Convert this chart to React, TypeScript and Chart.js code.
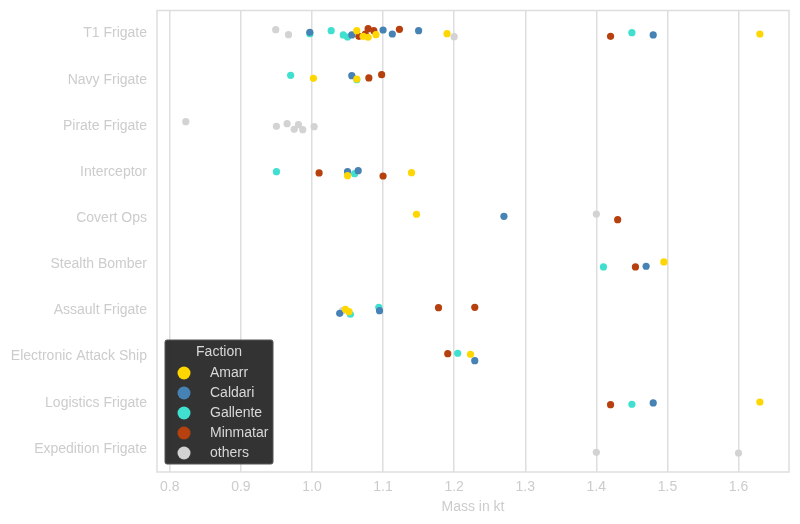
import React, { useEffect, useRef } from "react";
import { Chart, registerables } from "chart.js";

Chart.register(...registerables);

const categories = [
  "T1 Frigate",
  "Navy Frigate",
  "Pirate Frigate",
  "Interceptor",
  "Covert Ops",
  "Stealth Bomber",
  "Assault Frigate",
  "Electronic Attack Ship",
  "Logistics Frigate",
  "Expedition Frigate",
];

const xTicks = [0.8, 0.9, 1.0, 1.1, 1.2, 1.3, 1.4, 1.5, 1.6];

const factions = ["Amarr", "Caldari", "Gallente", "Minmatar", "others"];
const factionColors = ["#FFD700", "#4682B4", "#40E0D0", "#B7410E", "#D3D3D3"];

// [ship category index, mass in kt, vertical jitter in category units]
const amarr: number[][] = [
  [0, 1.063, -0.063], [0, 1.072, 0.059], [0, 1.079, 0.08], [0, 1.09, 0.024], [0, 1.19, 0.002], [0, 1.63, 0.009],
  [1, 1.002, -0.031], [1, 1.063, -0.016],
  [3, 1.05, 0.079], [3, 1.14, 0.014],
  [4, 1.147, -0.085],
  [5, 1.495, -0.051],
  [6, 1.047, -0.026], [6, 1.052, 0.026],
  [7, 1.223, -0.051],
  [8, 1.63, -0.017],
];

const caldari: number[][] = [
  [0, 0.997, -0.028], [0, 1.056, 0.03], [0, 1.1, -0.078], [0, 1.113, 0.009], [0, 1.15, -0.063], [0, 1.48, 0.03],
  [1, 1.056, -0.088],
  [3, 1.05, -0.008], [3, 1.065, -0.029],
  [4, 1.27, -0.041],
  [5, 1.47, 0.042],
  [6, 1.039, 0.061], [6, 1.095, 0.004],
  [7, 1.229, 0.088],
  [8, 1.48, 0.004],
];

const gallente: number[][] = [
  [0, 0.997, 0.002], [0, 1.027, -0.063], [0, 1.044, 0.03], [0, 1.05, 0.074], [0, 1.45, -0.02],
  [1, 0.97, -0.096], [1, 1.063, -0.001],
  [3, 0.95, -0.008], [3, 1.06, 0.036],
  [5, 1.41, 0.057],
  [6, 1.054, 0.082], [6, 1.094, -0.069],
  [7, 1.205, -0.073],
  [8, 1.45, 0.032],
];

const minmatar: number[][] = [
  [0, 1.066, 0.059], [0, 1.075, 0.009], [0, 1.079, -0.106], [0, 1.087, -0.063], [0, 1.123, -0.093], [0, 1.42, 0.059],
  [1, 1.08, -0.038], [1, 1.098, -0.11],
  [3, 1.01, 0.02], [3, 1.1, 0.086],
  [4, 1.43, 0.032],
  [5, 1.455, 0.057],
  [6, 1.178, -0.061], [6, 1.229, -0.069],
  [7, 1.191, -0.064],
  [8, 1.42, 0.041],
];

const others: number[][] = [
  [0, 0.949, -0.085], [0, 0.967, 0.024], [0, 1.2, 0.067],
  [2, 0.8225, -0.091], [2, 0.95, 0.009], [2, 0.965, -0.048], [2, 0.975, 0.074], [2, 0.981, -0.026], [2, 0.987, 0.082], [2, 1.003, 0.017],
  [4, 1.4, -0.091],
  [6, 1.043, 0.004],
  [9, 1.4, 0.073], [9, 1.6, 0.088],
];

const factionData = [amarr, caldari, gallente, minmatar, others];

const FONT = "'Liberation Sans', Arial, sans-serif";
const TEXT = "#cccccc";
const GRID = "#dedede";

const framePlugin = {
  id: "frameAndLegend",
  beforeDatasetsDraw(chart: any) {
    const { ctx, chartArea } = chart;
    ctx.save();
    ctx.strokeStyle = GRID;
    ctx.lineWidth = 1.5;
    ctx.strokeRect(chartArea.left, chartArea.top, chartArea.right - chartArea.left, chartArea.bottom - chartArea.top);
    ctx.restore();
  },
  afterDatasetsDraw(chart: any) {
    const { ctx, chartArea } = chart;
    const x0 = chartArea.left + 8;
    const y0 = chartArea.bottom - 132;
    const w = 108;
    const h = 124;
    ctx.save();
    ctx.fillStyle = "rgba(40,40,40,0.95)";
    ctx.strokeStyle = "#555";
    ctx.lineWidth = 1;
    ctx.beginPath();
    const r = 2;
    ctx.moveTo(x0 + r, y0);
    ctx.lineTo(x0 + w - r, y0);
    ctx.quadraticCurveTo(x0 + w, y0, x0 + w, y0 + r);
    ctx.lineTo(x0 + w, y0 + h - r);
    ctx.quadraticCurveTo(x0 + w, y0 + h, x0 + w - r, y0 + h);
    ctx.lineTo(x0 + r, y0 + h);
    ctx.quadraticCurveTo(x0, y0 + h, x0, y0 + h - r);
    ctx.lineTo(x0, y0 + r);
    ctx.quadraticCurveTo(x0, y0, x0 + r, y0);
    ctx.closePath();
    ctx.fill();
    ctx.stroke();
    ctx.font = `14px ${FONT}`;
    ctx.textBaseline = "middle";
    ctx.fillStyle = "#d8d8d8";
    ctx.textAlign = "center";
    ctx.fillText("Faction", x0 + w / 2, y0 + 12.5);
    ctx.textAlign = "left";
    factions.forEach((f, i) => {
      const cy = y0 + 33 + i * 20;
      ctx.fillStyle = factionColors[i];
      ctx.beginPath();
      ctx.arc(x0 + 19, cy, 6.5, 0, Math.PI * 2);
      ctx.fill();
      ctx.fillStyle = "#d8d8d8";
      ctx.fillText(f, x0 + 45, cy);
    });
    ctx.restore();
  },
};

export default function App() {
  const ref = useRef<HTMLCanvasElement | null>(null);
  useEffect(() => {
    document.body.style.margin = "0";
    if (!ref.current) return;
    const chart = new Chart(ref.current, {
      type: "scatter",
      data: {
        datasets: factions.map((f, i) => ({
          label: f,
          data: factionData[i].map((p) => ({ x: p[1], y: p[0] + p[2] })),
          backgroundColor: factionColors[i],
          borderColor: factionColors[i],
          borderWidth: 0,
          pointRadius: 3.6,
          pointHoverRadius: 3.6,
        })),
      },
      options: {
        animation: false,
        responsive: false,
        maintainAspectRatio: false,
        layout: { padding: { left: 0, top: 10.5, right: 11, bottom: 0 } },
        plugins: {
          legend: { display: false },
          tooltip: { enabled: false },
        },
        scales: {
          x: {
            type: "linear",
            min: 0.782,
            max: 1.671,
            afterBuildTicks: (scale: any) => {
              scale.ticks = xTicks.map((v) => ({ value: v }));
            },
            afterFit: (scale: any) => {
              scale.height = 52;
              scale.paddingLeft = 0;
              scale.paddingRight = 0;
            },
            grid: { color: GRID, lineWidth: 1.5, drawTicks: false },
            border: { display: false },
            ticks: {
              color: TEXT,
              font: { family: FONT, size: 14 },
              padding: 7,
              callback: (v: any) => Number(v).toFixed(1),
            },
            title: {
              display: true,
              text: "Mass in kt",
              color: TEXT,
              font: { family: FONT, size: 14 },
              padding: { top: 4, bottom: 8 },
            },
          },
          y: {
            type: "linear",
            min: -0.5,
            max: categories.length - 0.5,
            reverse: true,
            afterBuildTicks: (scale: any) => {
              scale.ticks = categories.map((_, i) => ({ value: i }));
            },
            afterFit: (scale: any) => {
              scale.width = 157;
              scale.paddingTop = 0;
              scale.paddingBottom = 0;
            },
            grid: { display: false, drawTicks: false },
            border: { display: false },
            ticks: {
              color: TEXT,
              font: { family: FONT, size: 14 },
              padding: 10,
              autoSkip: false,
              callback: (v: any) => categories[Math.round(Number(v))] ?? "",
            },
          },
        },
      },
      plugins: [framePlugin],
    });
    return () => chart.destroy();
  }, []);
  return (
    <div style={{ width: 800, height: 524 }}>
      <canvas ref={ref} width={800} height={524} />
    </div>
  );
}
